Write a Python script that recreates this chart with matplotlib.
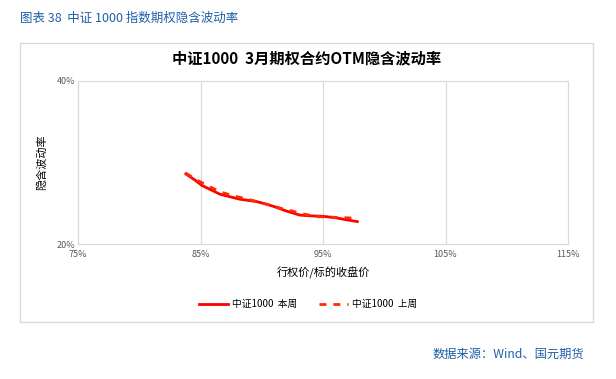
import matplotlib
matplotlib.use("Agg")
import matplotlib.pyplot as plt
from matplotlib.patches import Rectangle

plt.rcParams['font.family'] = ['Noto Sans CJK SC', 'DejaVu Sans']

# Data (moneyness %, implied vol %)
x_this = [83.8, 84.5, 85.1, 86.6, 88.2, 89.6, 90.1, 91.0, 92.0, 93.1, 94.0, 95.0, 96.1, 97.0, 97.8]
y_this = [28.6, 27.9, 27.2, 26.1, 25.5, 25.2, 25.0, 24.6, 24.05, 23.55, 23.45, 23.4, 23.2, 22.95, 22.75]
x_last = [83.8, 84.7, 85.8, 86.6, 87.7, 88.6, 89.6, 90.5, 91.5, 92.6, 93.5, 94.6, 95.5, 96.5, 97.7]
y_last = [28.7, 27.85, 27.0, 26.4, 25.9, 25.6, 25.2, 24.85, 24.4, 24.0, 23.65, 23.35, 23.3, 23.25, 23.15]
x_ticks = [75, 85, 95, 105, 115]
x_ticklabels = ['75%', '85%', '95%', '105%', '115%']
y_ticks = [20, 40]
y_ticklabels = ['20%', '40%']
series_names = ['中证1000  本周', '中证1000  上周']

W, H = 616, 379
fig = plt.figure(figsize=(W / 100, H / 100), dpi=100)

# outer frame
fig.patches.append(Rectangle((20 / W, 1 - 322 / H), (593 - 20) / W, (322 - 43) / H,
                             transform=fig.transFigure, fill=False,
                             edgecolor='#d9d9d9', linewidth=1.0))

ax = fig.add_axes([78 / W, 1 - 244 / H, (568 - 78) / W, (244 - 81) / H])
ax.plot(x_this, y_this, color='#ff0000', linewidth=2.0, label=series_names[0])
ax.plot(x_last, y_last, color='#ff2a00', linewidth=2.0, linestyle=(0, (2.5, 2.5)),
        label=series_names[1])
ax.set_xlim(75, 115)
ax.set_ylim(20, 40)
ax.set_xticks(x_ticks)
ax.set_xticklabels(x_ticklabels)
ax.set_yticks(y_ticks)
ax.set_yticklabels(y_ticklabels)
ax.tick_params(axis='both', length=0, labelsize=6.5, labelcolor='#595959')
ax.tick_params(axis='x', pad=4)
ax.tick_params(axis='y', pad=2)
ax.grid(axis='x', color='#d9d9d9', linewidth=0.8)
ax.set_axisbelow(True)
for s in ax.spines.values():
    s.set_color('#d9d9d9')
    s.set_linewidth(0.8)

ax.set_ylabel('隐含波动率', fontsize=8, color='#000000', labelpad=7)
ax.set_xlabel('行权价/标的收盘价', fontsize=8, color='#000000', labelpad=6)

fig.text(307 / W, 1 - 58 / H, '中证1000  3月期权合约OTM隐含波动率', ha='center', va='center',
         fontsize=11, fontweight='bold', color='#000000')

fig.text(20 / W, 1 - 18 / H, '图表 38  中证 1000 指数期权隐含波动率', ha='left', va='center',
         fontsize=9, color='#1f5fa8')
fig.text(584 / W, 1 - 354 / H, '数据来源：Wind、国元期货', ha='right', va='center',
         fontsize=8.8, color='#1f5fa8')

fig.legend(loc='center', bbox_to_anchor=(308 / W, 1 - 304 / H), ncol=2, frameon=False,
           fontsize=7, handlelength=3.0, columnspacing=2.2, handletextpad=0.4)

fig.savefig('out.png', dpi=100, facecolor='white')
